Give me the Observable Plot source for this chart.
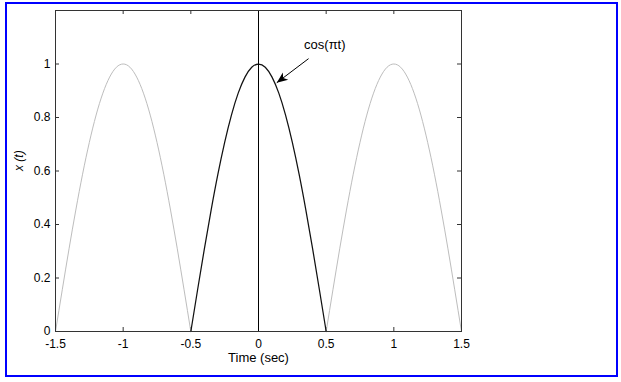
<!DOCTYPE html>
<html>
<head>
<meta charset="utf-8">
<script src="https://cdn.jsdelivr.net/npm/d3@7"></script>
<script src="https://cdn.jsdelivr.net/npm/@observablehq/plot@0.6"></script>
<style>
  html, body { margin: 0; padding: 0; background: #fff; }
  #wrap { position: relative; width: 621px; height: 382px; overflow: hidden; }
  #border { position: absolute; left: 5px; top: 2px; width: 609px; height: 371px; border: 2px solid #0000ff; pointer-events: none; }
</style>
</head>
<body>
<div id="wrap"><div id="border"></div></div>
<script>
// ---- data ----
const tTicks = [-1.5, -1, -0.5, 0, 0.5, 1, 1.5];
const yTicks = [0, 0.2, 0.4, 0.6, 0.8, 1];

const tMain  = [-0.5,-0.45,-0.4,-0.35,-0.3,-0.25,-0.2,-0.15,-0.1,-0.05,0,0.05,0.1,0.15,0.2,0.25,0.3,0.35,0.4,0.45,0.5];
const xMain  = [0,0.156,0.309,0.454,0.588,0.707,0.809,0.891,0.951,0.988,1,0.988,0.951,0.891,0.809,0.707,0.588,0.454,0.309,0.156,0];
const tLeft  = [-1.5,-1.45,-1.4,-1.35,-1.3,-1.25,-1.2,-1.15,-1.1,-1.05,-1,-0.95,-0.9,-0.85,-0.8,-0.75,-0.7,-0.65,-0.6,-0.55,-0.5];
const xLeft  = [0,0.156,0.309,0.454,0.588,0.707,0.809,0.891,0.951,0.988,1,0.988,0.951,0.891,0.809,0.707,0.588,0.454,0.309,0.156,0];
const tRight = [0.5,0.55,0.6,0.65,0.7,0.75,0.8,0.85,0.9,0.95,1,1.05,1.1,1.15,1.2,1.25,1.3,1.35,1.4,1.45,1.5];
const xRight = [0,0.156,0.309,0.454,0.588,0.707,0.809,0.891,0.951,0.988,1,0.988,0.951,0.891,0.809,0.707,0.588,0.454,0.309,0.156,0];

const annoLabel = ["cos(\u03C0t)"];
const annoText  = {t: 0.49, x: 1.07};
const arrowFrom = {t: 0.37, x: 1.02};
const arrowTo   = {t: 0.135, x: 0.93};

// ---- layout ----
const W = 621, H = 382;
const mL = 55, mR = 160, mT = 10, mB = 51;
const plotW = W - mL - mR, plotH = H - mT - mB;
const xDom = [-1.5, 1.5], yDom = [0, 1.2];

const main  = tMain.map((t, i) => ({t, x: xMain[i]}));
const left  = tLeft.map((t, i) => ({t, x: xLeft[i]}));
const right = tRight.map((t, i) => ({t, x: xRight[i]}));

// pixel direction of the arrow (for a filled head)
const px = t => mL + (t - xDom[0]) / (xDom[1] - xDom[0]) * plotW;
const py = v => mT + (1 - (v - yDom[0]) / (yDom[1] - yDom[0])) * plotH;
const dx = px(arrowFrom.t) - px(arrowTo.t), dy = py(arrowFrom.x) - py(arrowTo.x);
const len = Math.hypot(dx, dy), ux = dx / len, uy = dy / len, nx = -uy, ny = ux;
const headSymbol = {
  draw(ctx) {
    const L = 11, Wd = 4.5, N = 8;
    ctx.moveTo(0, 0);
    ctx.lineTo(L * ux + Wd * nx, L * uy + Wd * ny);
    ctx.lineTo(N * ux, N * uy);
    ctx.lineTo(L * ux - Wd * nx, L * uy - Wd * ny);
    ctx.closePath();
  }
};

const font = "'Liberation Sans', Arial, Helvetica, sans-serif";

const chart = Plot.plot({
  width: W, height: H,
  marginLeft: mL, marginRight: mR, marginTop: mT, marginBottom: mB,
  style: {fontFamily: font, fontSize: "12px", color: "#000", background: "transparent"},
  x: {domain: xDom, ticks: tTicks, tickFormat: d => String(d), label: null},
  y: {domain: yDom, ticks: yTicks, tickFormat: d => String(d), label: null},
  marks: [
    Plot.axisX(tTicks, {tickSize: 0, tickPadding: 8, tickFormat: d => String(d), label: null, fontSize: 12}),
    Plot.axisY(yTicks, {tickSize: 0, tickPadding: 5, tickFormat: d => String(d), label: null, fontSize: 12}),
    // inward ticks on all four sides
    Plot.tickX(tTicks, {x: d => d, insetTop: plotH - 4, stroke: "#333"}),
    Plot.tickX(tTicks, {x: d => d, insetBottom: plotH - 4, stroke: "#333"}),
    Plot.tickY(yTicks, {y: d => d, insetRight: plotW - 4, stroke: "#333"}),
    Plot.tickY(yTicks, {y: d => d, insetLeft: plotW - 4, stroke: "#333"}),
    Plot.line(left,  {x: "t", y: "x", stroke: "#bdbdbd", strokeWidth: 1, curve: "natural"}),
    Plot.line(right, {x: "t", y: "x", stroke: "#bdbdbd", strokeWidth: 1, curve: "natural"}),
    Plot.line(main,  {x: "t", y: "x", stroke: "#111", strokeWidth: 1.25, curve: "natural"}),
    Plot.ruleX([0], {stroke: "#000", strokeWidth: 1}),
    Plot.frame({stroke: "#333", strokeWidth: 1}),
    // annotation
    Plot.link([0], {x1: () => arrowFrom.t, y1: () => arrowFrom.x, x2: () => arrowTo.t, y2: () => arrowTo.x, stroke: "#000", strokeWidth: 1}),
    Plot.dot([0], {x: () => arrowTo.t, y: () => arrowTo.x, symbol: headSymbol, fill: "#000", stroke: "none", r: 5}),
    Plot.text(annoLabel, {x: () => annoText.t, y: () => annoText.x, text: d => d, fontSize: 13, fill: "#000"}),
    // axis titles
    Plot.text(["x (t)"], {frameAnchor: "left", dx: -36, rotate: -90, text: d => d, fontSize: 12, fill: "#000", fontStyle: "italic"}),
    Plot.text(["Time (sec)"], {frameAnchor: "bottom", dy: 30, text: d => d, fontSize: 13, fill: "#000"})
  ]
});
document.getElementById("wrap").appendChild(chart);
chart.style.position = "absolute";
chart.style.left = "0";
chart.style.top = "0";
</script>
</body>
</html>
